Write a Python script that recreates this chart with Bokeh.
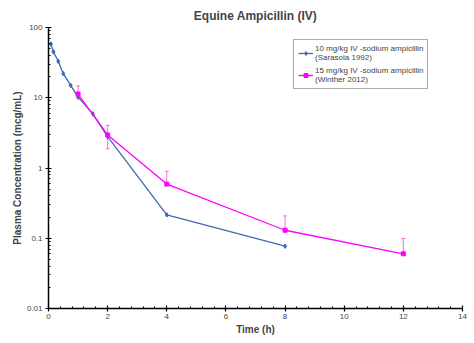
from bokeh.plotting import figure
from bokeh.models import Whisker, ColumnDataSource, SingleIntervalTicker, Legend, LegendItem, TeeHead, FixedTicker
from bokeh.embed import file_html
from bokeh.resources import INLINE

# Data
t_blue = [0.083, 0.167, 0.33, 0.5, 0.75, 1.0, 1.5, 2.0, 4.0, 8.0]
c_blue = [58.0, 45.0, 33.0, 22.0, 15.0, 10.2, 5.9, 2.8, 0.215, 0.077]
t_mag = [1.0, 2.0, 4.0, 8.0, 12.0]
c_mag = [11.3, 2.95, 0.59, 0.13, 0.06]
err_up = [3.4, 1.1, 0.31, 0.078, 0.039]
err_low = [0.0, 1.07, 0.0, 0.0, 0.0]
label_blue = "10 mg/kg IV -sodium ampicillin\n(Sarasola 1992)"
label_mag = "15 mg/kg IV -sodium ampicillin\n(Winther 2012)"

FONT = "Liberation Sans"
BLUE = "#4169B0"
MAG = "#FF00FF"
ERR = "#FF66E0"

p = figure(width=474, height=343, y_axis_type="log", x_range=(0, 14), y_range=(0.01, 100),
           output_backend="svg", toolbar_location=None,
           min_border_left=48, min_border_right=12, min_border_top=27, min_border_bottom=35,
           title="Equine Ampicillin (IV)")
p.outline_line_color = None
p.grid.visible = False
p.title.align = "center"
p.title.text_font = FONT
p.title.text_font_size = "12px"
p.title.text_font_style = "bold"
p.title.offset = 40

src_b = ColumnDataSource(dict(x=t_blue, y=c_blue))
up = [c + e for c, e in zip(c_mag, err_up)]
lo = [c - e for c, e in zip(c_mag, err_low)]
src_m = ColumnDataSource(dict(x=t_mag, y=c_mag, up=up, lo=lo))

w_up = Whisker(source=src_m, base="x", upper="up", lower="y", line_color=ERR, line_width=1,
               upper_head=TeeHead(size=4, line_color=ERR, line_width=1), lower_head=None)
p.add_layout(w_up)
src_lo = ColumnDataSource(dict(x=[t_mag[i] for i in range(len(t_mag)) if err_low[i] > 0],
                               y=[c_mag[i] for i in range(len(t_mag)) if err_low[i] > 0],
                               lo=[lo[i] for i in range(len(t_mag)) if err_low[i] > 0]))
w_lo = Whisker(source=src_lo, base="x", upper="y", lower="lo", line_color=ERR, line_width=1,
               lower_head=TeeHead(size=4, line_color=ERR, line_width=1), upper_head=None)
p.add_layout(w_lo)

lb = p.line("x", "y", source=src_b, line_color=BLUE, line_width=1.3)
sb = p.scatter("x", "y", source=src_b, marker="diamond", size=4.5, color=BLUE)
lm = p.line("x", "y", source=src_m, line_color=MAG, line_width=1.3)
sm = p.scatter("x", "y", source=src_m, marker="square", size=4, color=MAG)

legend = Legend(items=[LegendItem(label=label_blue, renderers=[lb, sb]),
                       LegendItem(label=label_mag, renderers=[lm, sm])],
                location=(245, 219))
legend.label_text_font = FONT
legend.label_text_font_size = "8px"
legend.label_height = 18
legend.glyph_width = 15
legend.glyph_height = 10
legend.spacing = 4
legend.padding = 4
legend.margin = 0
legend.border_line_color = "#555555"
legend.border_line_width = 1
legend.label_standoff = 2
p.add_layout(legend, "center")

p.xaxis.ticker = SingleIntervalTicker(interval=2, num_minor_ticks=5)
p.yaxis.ticker = FixedTicker(ticks=[0.01, 0.1, 1, 10, 100],
                             minor_ticks=[m * 10.0 ** e for e in range(-2, 2) for m in range(2, 10)])
p.yaxis.major_label_overrides = {0.01: "0.01", 0.1: "0.1", 1: "1", 10: "10", 100: "100"}
for ax in (p.xaxis, p.yaxis):
    ax.axis_line_color = "black"
    ax.axis_line_width = 1.5
    ax.major_tick_in = 3
    ax.major_tick_out = 3
    ax.minor_tick_in = 2
    ax.minor_tick_out = 0
    ax.major_tick_line_width = 1.2
    ax.minor_tick_line_width = 1
    ax.major_label_text_font = FONT
    ax.major_label_text_font_size = "8px"
    ax.axis_label_text_font = FONT
    ax.axis_label_text_font_size = "10px"
    ax.axis_label_text_font_style = "bold"
p.xaxis.axis_label = "Time (h)"
p.yaxis.axis_label = "Plasma Concentration (mcg/mL)"
p.xaxis.major_label_standoff = 2
p.yaxis.major_label_standoff = 3
p.xaxis.axis_label_standoff = 2
p.yaxis.axis_label_standoff = 1

open("out.html", "w").write(file_html(p, INLINE))
